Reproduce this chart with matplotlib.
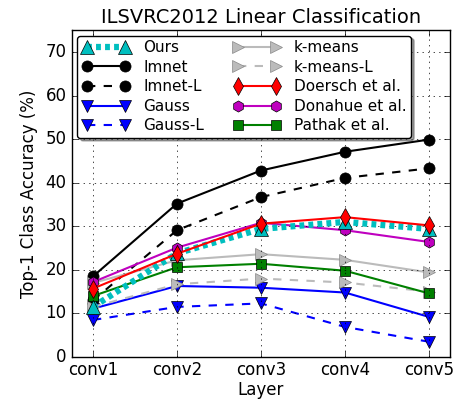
import matplotlib
matplotlib.use("Agg")
import matplotlib.pyplot as plt

plt.style.use("classic")

layers = ["conv1", "conv2", "conv3", "conv4", "conv5"]
x = [1, 2, 3, 4, 5]

ours = [11.5, 23.8, 29.4, 31.0, 29.4]
imnet = [18.5, 35.2, 42.8, 47.1, 49.9]
imnet_l = [13.0, 29.1, 36.7, 41.1, 43.3]
gauss = [11.1, 16.3, 15.9, 14.8, 9.2]
gauss_l = [8.5, 11.5, 12.3, 6.9, 3.5]
kmeans = [17.0, 22.2, 23.6, 22.3, 19.4]
kmeans_l = [11.5, 16.7, 18.0, 17.1, 15.0]
doersch = [15.7, 23.7, 30.6, 32.1, 30.2]
donahue = [17.2, 25.1, 30.8, 29.1, 26.4]
pathak = [14.0, 20.6, 21.4, 19.8, 14.6]

fig = plt.figure(figsize=(4.69, 4.01), dpi=100, facecolor="white")
ax = fig.add_axes([0.1535, 0.1097, 0.806, 0.815])

gray = "#bbbbbb"
ax.plot(x, ours, color="c", ls=(0, (3.5, 3.0)), lw=4.5, dash_capstyle="butt",
        marker="^", ms=10, label="Ours", zorder=5)
ax.plot(x, imnet, color="k", ls="-", lw=1.5, marker="o", ms=8, label="Imnet")
ax.plot(x, imnet_l, color="k", ls="--", lw=1.5, marker="o", ms=8, label="Imnet-L")
ax.plot(x, gauss, color="b", ls="-", lw=1.5, marker="v", ms=8, label="Gauss")
ax.plot(x, gauss_l, color="b", ls="--", lw=1.5, marker="v", ms=8, label="Gauss-L")
ax.plot(x, kmeans, color=gray, ls="-", lw=1.5, marker=">", ms=8, mfc=gray, mec="#888888", label="k-means")
ax.plot(x, kmeans_l, color=gray, ls="--", lw=1.5, marker=">", ms=8, mfc=gray, mec="#888888", label="k-means-L")
ax.plot(x, doersch, color="r", ls="-", lw=1.5, marker="d", ms=9, label="Doersch et al.", zorder=6)
ax.plot(x, donahue, color="m", ls="-", lw=1.5, marker="h", ms=8, label="Donahue et al.")
ax.plot(x, pathak, color="g", ls="-", lw=1.5, marker="s", ms=7, label="Pathak et al.")

ax.set_xlim(0.75, 5.25)
ax.set_ylim(0, 75)
ax.set_xticks(x)
ax.set_xticklabels(layers)
ax.set_yticks([0, 10, 20, 30, 40, 50, 60, 70])
ax.tick_params(labelsize=12)
ax.tick_params(axis="x", pad=3)
ax.grid(True)
ax.set_xlabel("Layer", fontsize=12, labelpad=1)
ax.set_ylabel("Top-1 Class Accuracy (%)", fontsize=12)
ax.set_title("ILSVRC2012 Linear Classification", fontsize=14)

ax.legend(loc="upper left", ncol=2, fontsize=11, shadow=True, fancybox=True,
          numpoints=2, handlelength=3.1, labelspacing=0.3, columnspacing=1.9,
          handletextpad=0.9, borderaxespad=0.35, borderpad=0.3)

fig.savefig("out.png", dpi=100, facecolor="white")
